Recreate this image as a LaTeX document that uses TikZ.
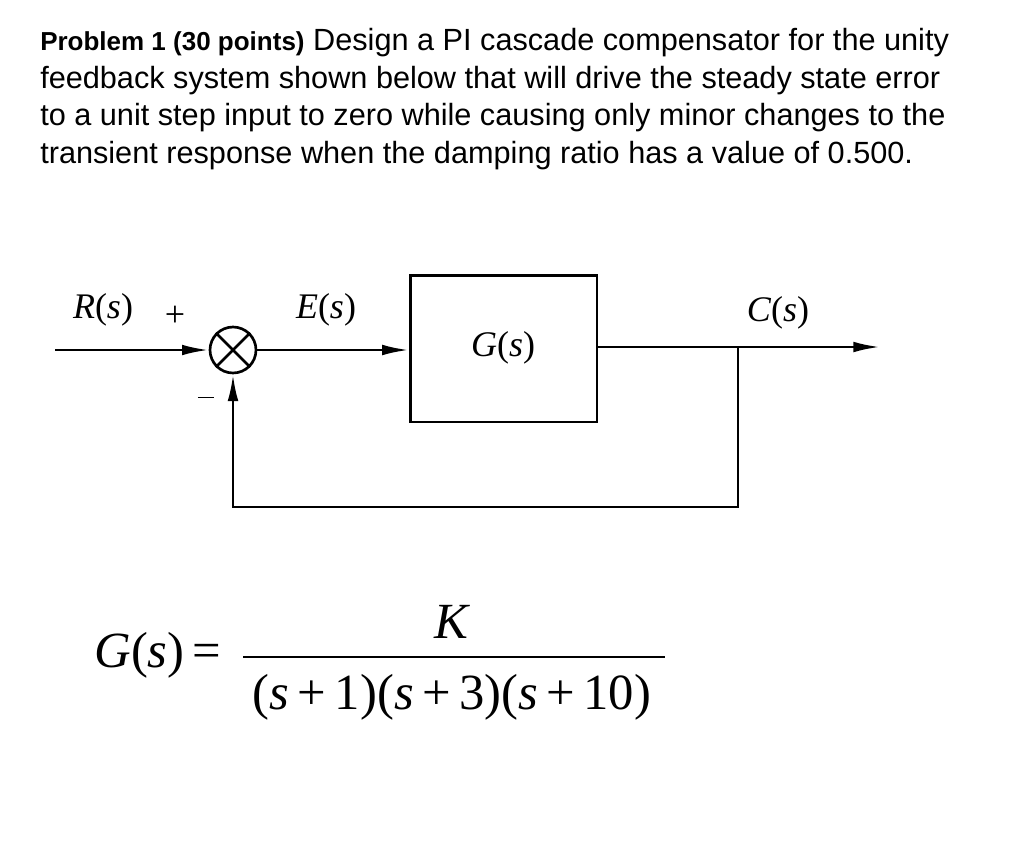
\documentclass[tikz,border=0pt]{standalone}
\usepackage{fontspec}
\setmainfont{Liberation Serif}
\newfontfamily\hv{Liberation Sans}
\usetikzlibrary{arrows.meta}
\newcommand{\vi}[1]{\textit{#1}}
\begin{document}
\begin{tikzpicture}[x=0.75pt,y=-0.75pt,
  ln/.style={line width=2pt},
  arr/.style={ln,-{Latex[length=20pt,width=8pt]}},
  lbl/.style={font=\fontsize{27}{30}\selectfont},
  eq/.style={font=\fontsize{38}{42}\selectfont}]
\useasboundingbox (0,0) rectangle (1024,854);
\node[anchor=north west,align=left,font=\hv\fontsize{23}{28.2}\selectfont,inner sep=0] (title) at (40,28)
 {{\fontsize{19.5}{22}\selectfont\bfseries Problem 1 (30 points)} Design a PI cascade compensator for the unity\\
 feedback system shown below that will drive the steady state error\\
 to a unit step input to zero while causing only minor changes to the\\
 transient response when the damping ratio has a value of 0.500.};
\node[draw,circle,ln,minimum size=34.5pt,inner sep=0] (sum) at (233,350) {};
\draw[ln] (sum.45)--(sum.225) (sum.135)--(sum.315);
\node[draw,ln,minimum width=140pt,minimum height=110pt,inner sep=0] (G) at (503.5,348.5) {};
\node[lbl] at (503,348) {\vi{G}(\vi{s})};
\coordinate (in) at (55,350);
\coordinate (tap) at (738,347);
\coordinate (out) at (880,347);
\coordinate (fb1) at (738,507);
\coordinate (fb2) at (233,507);
\draw[arr] (in) -- (sum.west);
\draw[arr] (sum.east) -- (G.west|-sum);
\draw[ln] (G.east|-tap) -- (tap);
\draw[arr] (tap) -- (out);
\draw[arr] (tap) -- (fb1) -- (fb2) -- (sum.south);
\node[lbl] (R) at (103,310) {\vi{R}(\vi{s})};
\node[lbl] (plus) at (175,316) {+};
\node[lbl] (E) at (326,310) {\vi{E}(\vi{s})};
\node[lbl] (C) at (778,313) {\vi{C}(\vi{s})};
\node[lbl] (minus) at (206,400) {\rule[0.3ex]{0.45em}{1.2pt}};
\node[eq] (geq) at (158,655) {\vi{G}(\vi{s})\,=};
\draw[line width=1.2pt] (243,657) -- (665,657);
\node[eq] (K) at (452,622) {\vi{K}};
\node[eq] (den) at (452,697) {(\vi{s}\,+\,1)(\vi{s}\,+\,3)(\vi{s}\,+\,10)};
\end{tikzpicture}
\end{document}
